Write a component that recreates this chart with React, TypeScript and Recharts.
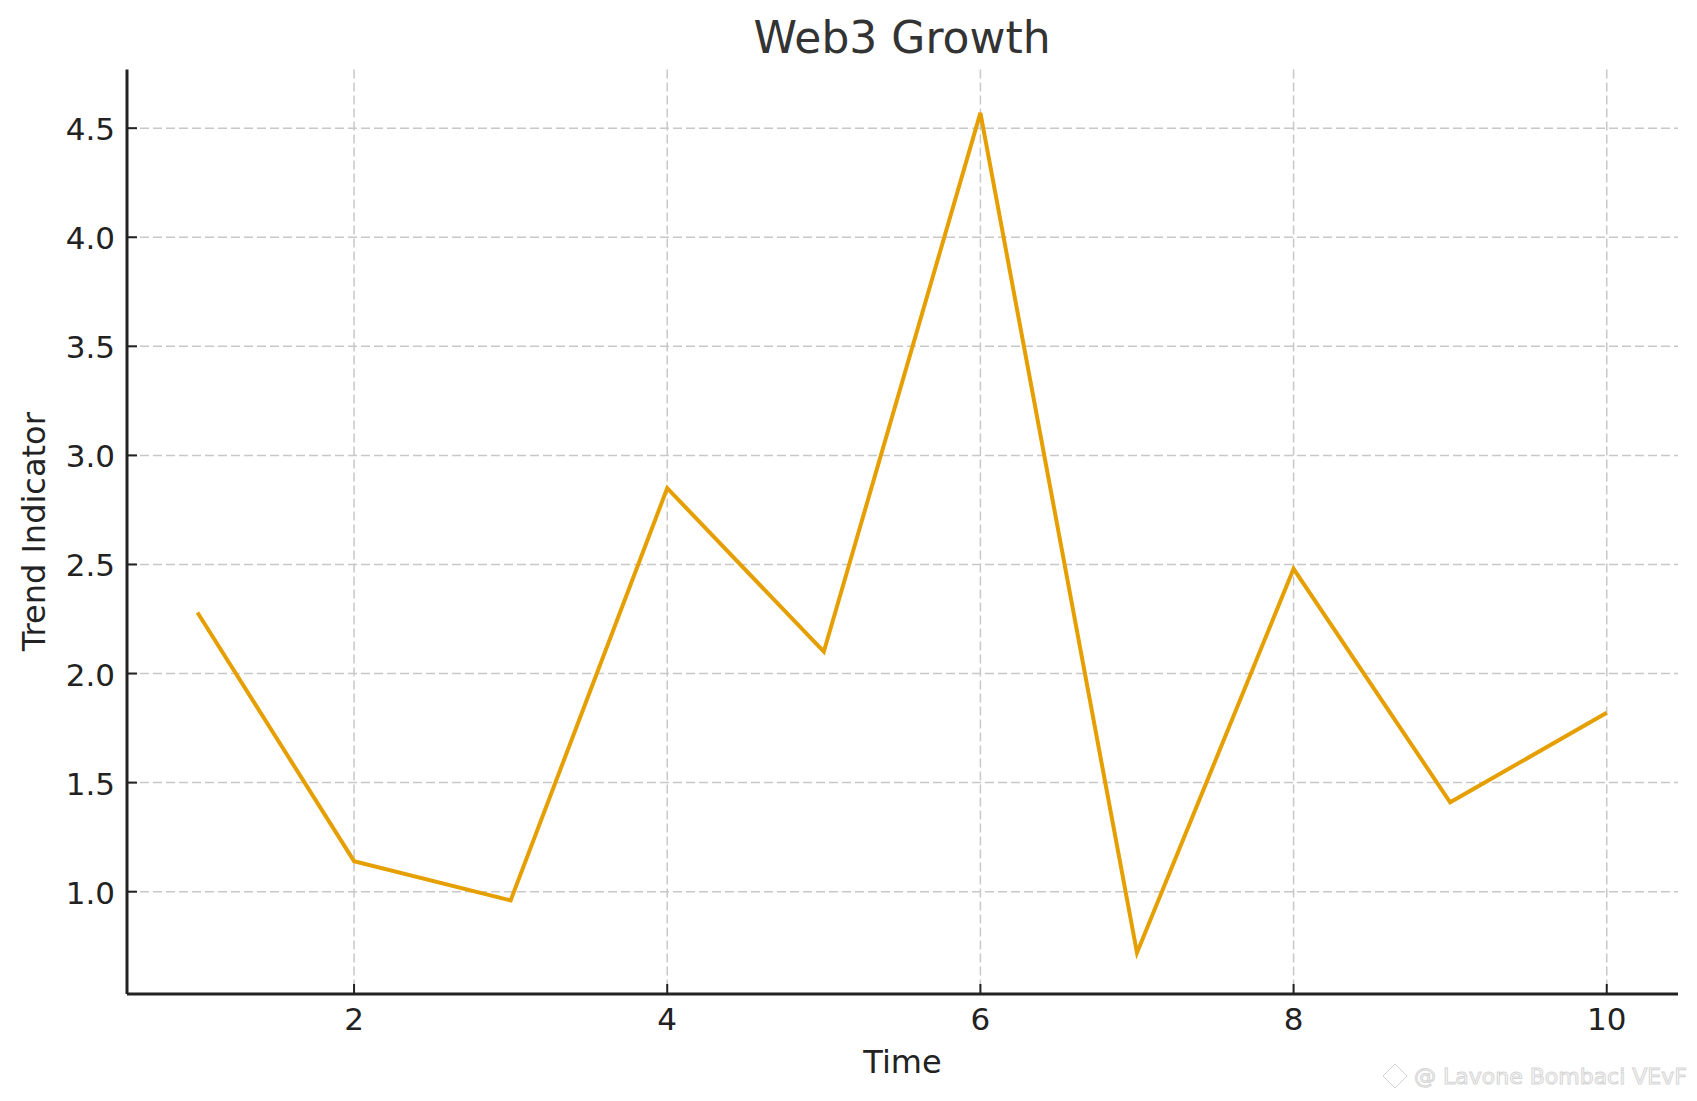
import React from "react";
import { LineChart, Line, XAxis, YAxis, CartesianGrid, Label } from "recharts";

// values
const times = [1, 2, 3, 4, 5, 6, 7, 8, 9, 10];
const trend = [2.28, 1.14, 0.96, 2.85, 2.1, 4.57, 0.72, 2.48, 1.41, 1.82];
const xTicks = [2, 4, 6, 8, 10];
const yTicks = [1.0, 1.5, 2.0, 2.5, 3.0, 3.5, 4.0, 4.5];

const data = times.map((t, i) => ({ time: t, trend: trend[i] }));

const FONT = "'DejaVu Sans', sans-serif";
const INK = "#222222";

// ticks point into the plot, like the original
const XTick = (props: any) => {
  const { x, y, payload } = props;
  return (
    <g>
      <line x1={x} x2={x} y1={y} y2={y - 10} stroke={INK} strokeWidth={2} />
      <text x={x} y={y + 36} textAnchor="middle" fill={INK} fontSize={31} fontFamily={FONT}>
        {payload.value}
      </text>
    </g>
  );
};

const YTick = (props: any) => {
  const { x, y, payload } = props;
  return (
    <g>
      <line x1={x} x2={x + 10} y1={y} y2={y} stroke={INK} strokeWidth={2} />
      <text x={x - 12} y={y + 12} textAnchor="end" fill={INK} fontSize={31} fontFamily={FONT}>
        {Number(payload.value).toFixed(1)}
      </text>
    </g>
  );
};

export default function App() {
  return (
    <div style={{ position: "absolute", left: 0, top: 0, width: 1697, height: 1101, background: "#fff" }}>
      <LineChart
        width={1697}
        height={1101}
        data={data}
        margin={{ top: 69.5, right: 19, left: 67, bottom: 0 }}
      >
        <CartesianGrid stroke="#c8c8c8" strokeWidth={1.5} strokeDasharray="9 4" syncWithTicks />
        <XAxis
          dataKey="time"
          type="number"
          domain={[0.55, 10.455]}
          ticks={xTicks}
          allowDataOverflow
          height={107}
          tickSize={0}
          tickMargin={0}
          tickLine={false}
          tick={<XTick />}
          axisLine={{ stroke: INK, strokeWidth: 3 }}
        >
          <Label
            value="Time"
            position="insideBottom"
            offset={28}
            fill={INK}
            fontSize={32}
            fontFamily={FONT}
          />
        </XAxis>
        <YAxis
          type="number"
          domain={[0.531, 4.769]}
          ticks={yTicks}
          allowDataOverflow
          width={60}
          tickSize={0}
          tickMargin={0}
          tickLine={false}
          tick={<YTick />}
          axisLine={{ stroke: INK, strokeWidth: 3 }}
        >
          <Label
            content={(p: any) => {
              const vb = p.viewBox || { y: 0, height: 0 };
              const cy = vb.y + vb.height / 2;
              return (
                <text
                  x={45}
                  y={cy}
                  transform={`rotate(-90, 45, ${cy})`}
                  textAnchor="middle"
                  fill={INK}
                  fontSize={32}
                  fontFamily={FONT}
                >
                  Trend Indicator
                </text>
              );
            }}
          />
        </YAxis>
        <Line
          type="linear"
          dataKey="trend"
          stroke="#E69F00"
          strokeWidth={4}
          dot={false}
          activeDot={false}
          isAnimationActive={false}
        />
      </LineChart>
      <svg
        width={1697}
        height={1101}
        style={{ position: "absolute", left: 0, top: 0, pointerEvents: "none" }}
      >
        <text x={902} y={53} textAnchor="middle" fill="#333333" fontSize={44} fontFamily={FONT}>
          Web3 Growth
        </text>
        <g fill="#ffffff" stroke="#d4d4d4" strokeWidth={1}>
          <polygon points="1395,1064 1407,1076 1395,1088 1383,1076" />
          <text x={1414} y={1084} textAnchor="start" fontSize={22} fontFamily={FONT}>
            @ Lavone Bombaci VEvF
          </text>
        </g>
      </svg>
    </div>
  );
}
